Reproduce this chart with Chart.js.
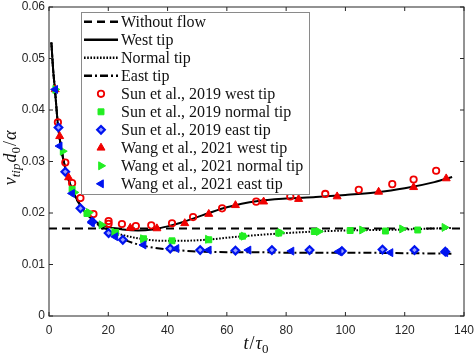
<!DOCTYPE html>
<html><head><meta charset="utf-8">
<script src="https://cdn.jsdelivr.net/npm/chart.js@4.4.1/dist/chart.umd.min.js"></script>
<style>html,body{margin:0;padding:0;background:#fff;}#wrap{width:474px;height:355px;}</style>
</head><body><div id="wrap"><canvas id="c" width="474" height="355"></canvas></div>
<script>
// ---- tick labels ----
const xTickValues = [0, 20, 40, 60, 80, 100, 120, 140];
const xTickLabels = ['0', '20', '40', '60', '80', '100', '120', '140'];
const yTickValues = [0, 0.01, 0.02, 0.03, 0.04, 0.05, 0.06];
const yTickLabels = ['0', '0.01', '0.02', '0.03', '0.04', '0.05', '0.06'];

// ---- simulation curves ----
const noFlowX = [0, 140];
const noFlowY = [0.0170, 0.0170];

const westX = [0.8, 1.4, 2.0, 3.0, 4.0, 5.5, 8.0, 11.5, 16.0, 20, 25, 30, 35, 40, 45, 50, 55, 60, 65, 70, 80, 90, 100, 110, 120, 130, 136];
const westY = [0.0531, 0.0478, 0.0440, 0.0372, 0.0330, 0.0287, 0.0243, 0.0207, 0.0182, 0.0173, 0.0168, 0.0166, 0.0168, 0.0174, 0.0182, 0.0192, 0.0202, 0.0211, 0.0218, 0.0223, 0.0228, 0.0231, 0.0235, 0.0240, 0.0248, 0.0260, 0.0270];

const normalX = [0.8, 1.4, 2.0, 3.0, 4.0, 5.5, 8.0, 11.5, 16.0, 20, 25, 30, 35, 40, 45, 50, 55, 60, 70, 80, 90, 100, 110, 120, 130, 136];
const normalY = [0.0531, 0.0478, 0.0440, 0.0372, 0.0330, 0.0287, 0.0243, 0.0207, 0.0182, 0.0167, 0.0157, 0.0151, 0.0147, 0.0146, 0.0146, 0.0147, 0.0149, 0.0152, 0.0157, 0.0161, 0.0164, 0.0166, 0.0167, 0.0168, 0.0170, 0.0171];

const eastX = [0.8, 1.4, 2.0, 3.0, 4.0, 5.5, 8.0, 11.5, 16.0, 20, 25, 30, 35, 40, 45, 50, 60, 70, 80, 100, 120, 136];
const eastY = [0.0531, 0.0478, 0.0440, 0.0372, 0.0330, 0.0287, 0.0243, 0.0207, 0.0180, 0.0163, 0.0149, 0.0139, 0.0133, 0.0129, 0.0127, 0.0125, 0.0124, 0.0124, 0.0123, 0.0123, 0.0122, 0.0121];

// ---- reference data ----
const sunWestX = [3.0, 5.5, 7.8, 10.6, 15.0, 20.1, 20.1, 24.6, 29.3, 34.5, 41.5, 48.6, 58.4, 69.9, 81.4, 93.2, 104.5, 115.8, 123.0, 130.6];
const sunWestY = [0.0376, 0.0298, 0.0258, 0.0229, 0.0198, 0.01845, 0.0179, 0.01786, 0.01748, 0.0176, 0.0180, 0.0192, 0.0209, 0.0222, 0.0232, 0.0237, 0.0245, 0.0256, 0.0265, 0.0282];

const sunNormalX = [7.8, 12.8, 22.5, 31.9, 41.5, 53.9, 65.3, 77.5, 89.5, 101.6, 113.5, 124.4];
const sunNormalY = [0.0246, 0.0199, 0.0162, 0.0150, 0.0146, 0.0148, 0.0155, 0.0161, 0.0164, 0.0166, 0.0165, 0.0167];

const sunEastX = [3.2, 5.5, 10.6, 14.6, 20.1, 24.9, 40.9, 51.0, 62.9, 75.2, 87.9, 98.8, 112.5, 123.3, 133.7];
const sunEastY = [0.0366, 0.0280, 0.0209, 0.0183, 0.0161, 0.0148, 0.0131, 0.0128, 0.0127, 0.0128, 0.0128, 0.0126, 0.0129, 0.0128, 0.0125];

const wangWestX = [2.1, 3.6, 6.6, 27.4, 36.4, 45.8, 53.9, 62.9, 72.4, 84.2, 97.2, 111.2, 123.0, 134.0];
const wangWestY = [0.0440, 0.0349, 0.0269, 0.0171, 0.0170, 0.0180, 0.0198, 0.0215, 0.0222, 0.0227, 0.0232, 0.0241, 0.0250, 0.0267];

const wangNormalX = [2.1, 4.6, 8.5, 13.4, 17.7, 22.0, 31.7, 53.6, 65.7, 78.0, 91.0, 105.6, 119.1, 133.4];
const wangNormalY = [0.0440, 0.0320, 0.0240, 0.0201, 0.0177, 0.0163, 0.0150, 0.0149, 0.0155, 0.0162, 0.0164, 0.0167, 0.0169, 0.0172];

const wangEastX = [2.1, 3.6, 7.8, 14.5, 22.4, 31.9, 43.0, 53.9, 67.3, 81.8, 97.7, 115.2, 133.7];
const wangEastY = [0.0440, 0.0330, 0.0238, 0.0181, 0.0154, 0.0138, 0.0131, 0.0128, 0.0128, 0.0126, 0.0125, 0.0123, 0.0123];

const pts = (xs, ys) => xs.map((x, i) => ({x: x, y: ys[i]}));

const RED = '#f00000', GREEN = '#22ee22', BLUE = '#0014f0';

function lineDs(label, xs, ys, dash) {
  return {label, data: pts(xs, ys), showLine: true, borderColor: '#000', borderWidth: 2,
    borderDash: dash, pointRadius: 0, pointHoverRadius: 0, cubicInterpolationMode: 'monotone', order: 10, fill: false};
}
function markDs(label, xs, ys, style, rot, color, fillColor, r, bw, order) {
  return {label, data: pts(xs, ys), showLine: false, pointStyle: style, pointRotation: rot,
    pointRadius: r, pointHoverRadius: r, borderColor: color, pointBorderColor: color,
    pointBackgroundColor: fillColor, backgroundColor: fillColor, pointBorderWidth: bw, borderWidth: bw, order};
}

const datasets = [
  lineDs('Without flow', noFlowX, noFlowY, [8, 5]),
  lineDs('West tip', westX, westY, []),
  lineDs('Normal tip', normalX, normalY, [1.6, 1.6]),
  lineDs('East tip', eastX, eastY, [8, 3, 2, 3]),
  markDs('Sun et al., 2019 west tip', sunWestX, sunWestY, 'circle', 0, RED, 'rgba(0,0,0,0)', 3.2, 1.8, 6),
  markDs('Sun et al., 2019 normal tip', sunNormalX, sunNormalY, 'rect', 0, GREEN, GREEN, 4.2, 1, 5),
  markDs('Sun et al., 2019 east tip', sunEastX, sunEastY, 'rectRot', 0, BLUE, '#9aa0ff', 3.8, 2.2, 4),
  markDs('Wang et al., 2021 west tip', wangWestX, wangWestY, 'triangle', 0, RED, RED, 4.6, 1, 3),
  markDs('Wang et al., 2021 normal tip', wangNormalX, wangNormalY, 'triangle', 90, GREEN, GREEN, 4.6, 1, 2),
  markDs('Wang et al., 2021 east tip', wangEastX, wangEastY, 'triangle', -90, BLUE, BLUE, 4.6, 1, 1)
];

function drawMarker(ctx, ds, x, y) {
  const r = ds.pointRadius, style = ds.pointStyle;
  ctx.save();
  ctx.setLineDash([]);
  ctx.strokeStyle = ds.pointBorderColor; ctx.fillStyle = ds.pointBackgroundColor; ctx.lineWidth = ds.pointBorderWidth;
  ctx.beginPath();
  if (style === 'circle') { ctx.arc(x, y, r, 0, Math.PI * 2); }
  else if (style === 'rect') { const s = r * Math.SQRT1_2; ctx.rect(x - s, y - s, 2 * s, 2 * s); }
  else if (style === 'rectRot') { ctx.moveTo(x, y - r); ctx.lineTo(x + r, y); ctx.lineTo(x, y + r); ctx.lineTo(x - r, y); ctx.closePath(); }
  else if (style === 'triangle') {
    let a = (ds.pointRotation || 0) * Math.PI / 180;
    ctx.moveTo(x + Math.sin(a) * r, y - Math.cos(a) * r);
    a += 2 * Math.PI / 3; ctx.lineTo(x + Math.sin(a) * r, y - Math.cos(a) * r);
    a += 2 * Math.PI / 3; ctx.lineTo(x + Math.sin(a) * r, y - Math.cos(a) * r);
    ctx.closePath();
  }
  ctx.fill(); ctx.stroke();
  ctx.restore();
}

const AXC = '#262626';
const framePlugin = {
  id: 'frame',
  afterDatasetsDraw(chart) {
    const {ctx, chartArea: a, scales} = chart;
    ctx.save();
    ctx.strokeStyle = AXC; ctx.lineWidth = 1; ctx.setLineDash([]);
    ctx.strokeRect(a.left, a.top, a.right - a.left, a.bottom - a.top);
    ctx.beginPath();
    const tl = 4;
    xTickValues.forEach(v => { const px = scales.x.getPixelForValue(v);
      ctx.moveTo(px, a.bottom); ctx.lineTo(px, a.bottom - tl);
      ctx.moveTo(px, a.top); ctx.lineTo(px, a.top + tl); });
    yTickValues.forEach(v => { const py = scales.y.getPixelForValue(v);
      ctx.moveTo(a.left, py); ctx.lineTo(a.left + tl, py);
      ctx.moveTo(a.right, py); ctx.lineTo(a.right - tl, py); });
    ctx.stroke();
    ctx.restore();
  },
  afterDraw(chart) {
    const ctx = chart.ctx;
    ctx.save();
    // legend box
    const L = 81, T = 12, W = 228, H = 182;
    ctx.fillStyle = '#fff'; ctx.fillRect(L, T, W, H);
    ctx.strokeStyle = '#8a8a8a'; ctx.lineWidth = 1; ctx.strokeRect(L + 0.5, T + 0.5, W, H);
    ctx.font = '16px "Liberation Serif", "DejaVu Serif", serif';
    ctx.textBaseline = 'middle'; ctx.textAlign = 'left';
    chart.data.datasets.forEach((ds, i) => {
      const y = 21.8 + i * 18.0;
      if (ds.showLine) {
        ctx.save();
        ctx.strokeStyle = '#000'; ctx.lineWidth = 2.5; ctx.setLineDash(ds.borderDash || []);
        ctx.beginPath(); ctx.moveTo(84, y); ctx.lineTo(118, y); ctx.stroke();
        ctx.restore();
      } else {
        drawMarker(ctx, ds, 101, y);
      }
      ctx.fillStyle = '#111';
      ctx.fillText(ds.label, 121, y + 1);
    });
    // axis titles
    const big = 'italic 18px "Liberation Serif", serif', bigR = '18px "Liberation Serif", serif';
    const subI = 'italic 13px "Liberation Serif", serif', subR = '13px "Liberation Serif", serif';
    function drawParts(parts, cx, baseY) {
      let w = 0;
      parts.forEach(p => { ctx.font = p[1]; w += ctx.measureText(p[0]).width + (p[3] || 0); });
      let x = cx - w / 2;
      ctx.textAlign = 'left'; ctx.textBaseline = 'alphabetic'; ctx.fillStyle = '#111';
      parts.forEach(p => { ctx.font = p[1]; ctx.fillText(p[0], x, baseY + p[2]); x += ctx.measureText(p[0]).width + (p[3] || 0); });
    }
    drawParts([['t', big, 0, 1], ['/', bigR, 0, 1], ['τ', big, 0, 0], ['0', subR, 4, 0]], 256, 349);
    ctx.save();
    ctx.translate(16, 158); ctx.rotate(-Math.PI / 2);
    drawParts([['v', big, 0, 0], ['tip', subI, 4, 1], ['d', big, 0, 0], ['0', subR, 4, 1], ['/', bigR, 0, 1], ['α', big, 0, 0]], 0, 0);
    ctx.restore();
    ctx.restore();
  }
};

new Chart(document.getElementById('c'), {
  type: 'scatter',
  data: {datasets},
  options: {
    responsive: false, animation: false, devicePixelRatio: 1,
    layout: {padding: {left: 0, right: 10, top: 7, bottom: 0}},
    plugins: {legend: {display: false}, tooltip: {enabled: false}},
    scales: {
      x: {type: 'linear', min: 0, max: 140,
        afterBuildTicks: s => { s.ticks = xTickValues.map(v => ({value: v})); },
        afterFit: s => { s.height = 39; s.paddingLeft = 0; s.paddingRight = 0; },
        grid: {display: false, drawTicks: false}, border: {display: false},
        ticks: {padding: 7, color: AXC, font: {family: '"Liberation Sans", Arial, sans-serif', size: 12},
          maxRotation: 0, autoSkip: false, callback: (v) => xTickLabels[xTickValues.indexOf(v)]}},
      y: {type: 'linear', min: 0, max: 0.06,
        afterBuildTicks: s => { s.ticks = yTickValues.map(v => ({value: v})); },
        afterFit: s => { s.width = 49; s.paddingTop = 0; s.paddingBottom = 0; },
        grid: {display: false, drawTicks: false}, border: {display: false},
        ticks: {padding: 4, color: AXC, font: {family: '"Liberation Sans", Arial, sans-serif', size: 12},
          autoSkip: false, callback: (v) => { const i = yTickValues.findIndex(t => Math.abs(t - v) < 1e-9); return i >= 0 ? yTickLabels[i] : ''; }}}
    }
  },
  plugins: [framePlugin]
});
</script></body></html>
